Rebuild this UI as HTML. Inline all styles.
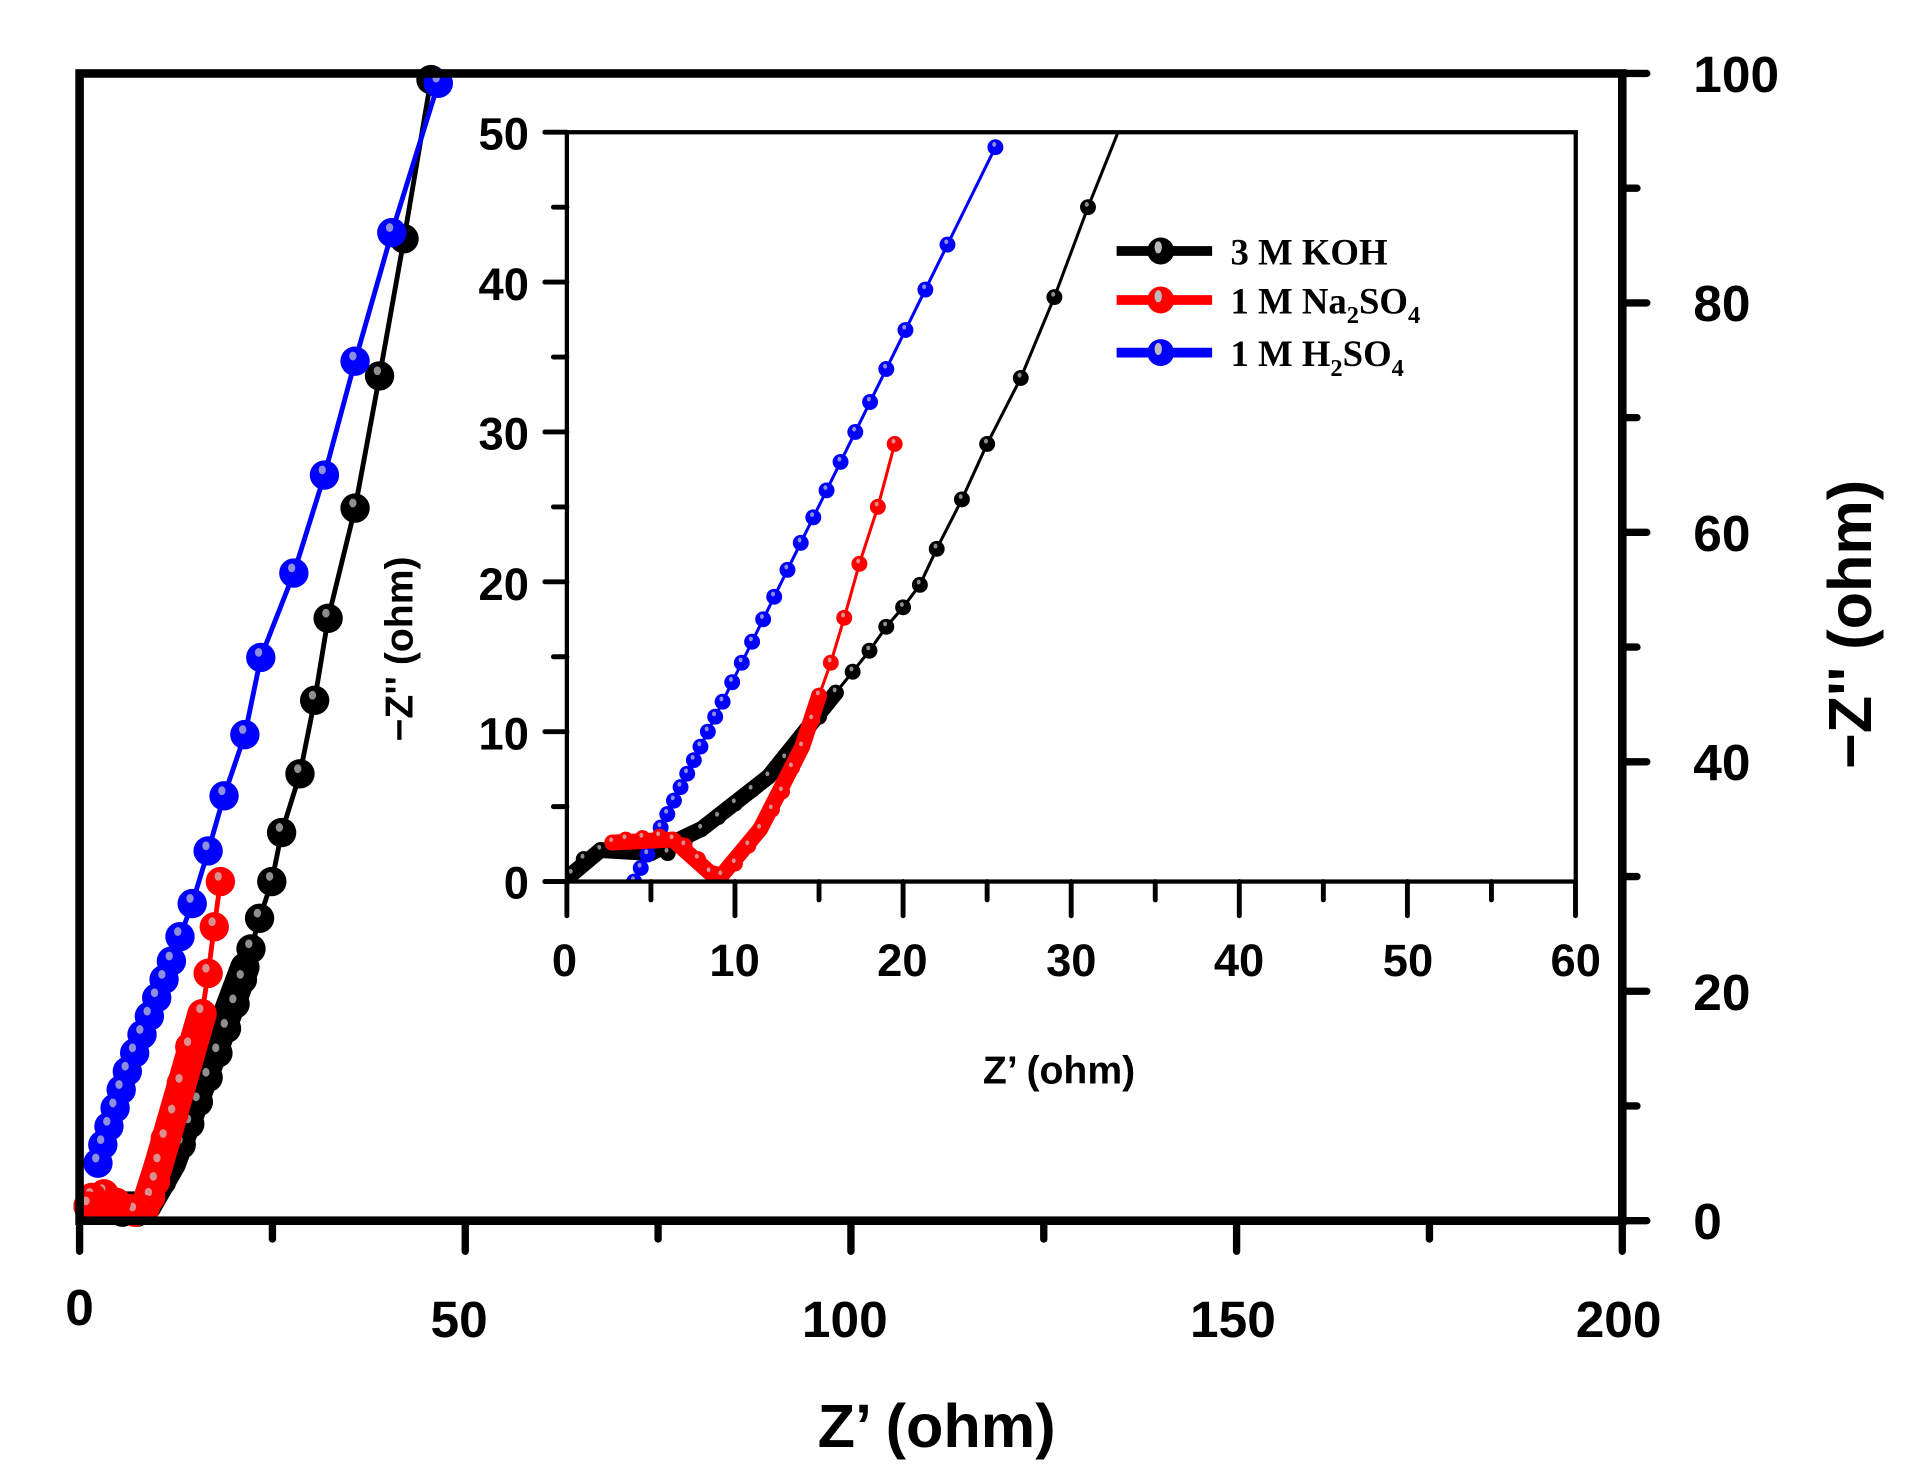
<!DOCTYPE html>
<html><head><meta charset="utf-8"><style>
html,body{margin:0;padding:0;background:#fff;}
svg{display:block;}
</style></head><body>
<svg id="s" width="1910" height="1481" viewBox="0 0 1560 1209.6" preserveAspectRatio="none" xmlns="http://www.w3.org/2000/svg" font-family="Liberation Sans, Arial, sans-serif" font-weight="bold">
<defs><clipPath id="ic"><rect x="463" y="108" width="824" height="612"/></clipPath></defs>
<rect width="1560" height="1210" fill="#fff"/>
<g id="main"></g>
<rect x="65" y="60" width="1260" height="937" fill="none" stroke="#000" stroke-width="7"/>
<g id="mticks" stroke="#000" stroke-width="6" stroke-linecap="round"></g>
<g font-size="42" text-anchor="middle">
<text x="65" y="1082">0</text>
<text x="375" y="1092">50</text>
<text x="690" y="1092">100</text>
<text x="1007" y="1092">150</text>
<text x="1322" y="1092">200</text>
</g>
<g font-size="42" text-anchor="start">
<text x="1383" y="75">100</text>
<text x="1383" y="262">80</text>
<text x="1383" y="450">60</text>
<text x="1383" y="637">40</text>
<text x="1383" y="825">20</text>
<text x="1383" y="1012">0</text>
</g>
<text x="765" y="1182" font-size="50" text-anchor="middle">Z’ (ohm)</text>
<text transform="translate(1528,510) rotate(-90)" font-size="50" text-anchor="middle">−Z'' (ohm)</text>
<rect x="463" y="108" width="824" height="612" fill="#fff"/>
<g id="inset" clip-path="url(#ic)"></g>
<rect x="463" y="108" width="824" height="612" fill="none" stroke="#000" stroke-width="3.5"/>
<g id="iticks" stroke="#000" stroke-width="4" stroke-linecap="round"></g>
<g font-size="37" text-anchor="middle">
<text x="461" y="797">0</text><text x="600" y="797">10</text><text x="737" y="797">20</text>
<text x="875" y="797">30</text><text x="1012" y="797">40</text><text x="1150" y="797">50</text><text x="1287" y="797">60</text>
</g>
<g font-size="37" text-anchor="end">
<text x="432" y="734">0</text><text x="432" y="612">10</text><text x="432" y="490">20</text>
<text x="432" y="367">30</text><text x="432" y="245">40</text><text x="432" y="122">50</text>
</g>
<text x="865" y="885" font-size="32" text-anchor="middle">Z’ (ohm)</text>
<text transform="translate(337,530) rotate(-90)" font-size="32" text-anchor="middle">−Z'' (ohm)</text>
<g id="legend" font-family="Liberation Serif, Times New Roman, serif" font-size="30" font-weight="bold"></g>
<script>
var NS="http://www.w3.org/2000/svg";
function el(p,t,a){var e=document.createElementNS(NS,t);for(var k in a)e.setAttribute(k,a[k]);p.appendChild(e);return e;}
function series(g,pts,col,r,lw,band){
 var d=pts.map(function(p){return p[0]+","+p[1]}).join(" ");
 if(band)el(g,"polyline",{points:band.map(function(p){return p[0]+","+p[1]}).join(" "),fill:"none",stroke:col,"stroke-width":r*2,"stroke-linejoin":"round","stroke-linecap":"round"});
 el(g,"polyline",{points:d,fill:"none",stroke:col,"stroke-width":lw});
 pts.forEach(function(p){el(g,"circle",{cx:p[0],cy:p[1],r:r,fill:col});
  el(g,"ellipse",{cx:p[0]-r*0.15,cy:p[1]-r*0.35,rx:r*0.25,ry:r*0.3,fill:"#ccc",opacity:0.7});});
}
var M=document.getElementById("main");
var blackM=[[352,65],[330,195],[310,307],[290,415],[268,505],[257,572],[245,632],[230,680],[222,720],[212,750],[205,775],[198,800],[192,820],[185,840],[178,860],[170,880],[162,900],[155,918],[148,935],[140,950],[132,965],[125,975],[120,985],[112,990],[100,990],[90,988],[80,985],[72,985]];
var blueM=[[358,68],[320,190],[290,295],[265,388],[240,468],[213,537],[200,600],[183,650],[170,695],[157,738],[147,765],[140,785],[134,800],[128,815],[122,830],[116,845],[110,860],[104,875],[99,890],[94,905],[89,920],[84,935],[80,950]];
var redM=[[180,720],[175,757],[170,795],[165,828],[155,855],[148,885],[142,910],[135,930],[130,950],[127,965],[123,978],[118,988],[110,990],[95,982],[85,975],[75,978],[72,985]];
series(M,blackM,"#000",12,4,[[200,790],[140,950],[120,985],[72,985]]);
series(M,blueM,"#0000ff",12,4,null);
series(M,redM,"#ff0000",12,4,[[165,828],[130,950],[118,988],[72,985]]);
var T=document.getElementById("mticks");
for(var i=0;i<=8;i++){var x=65+i*157.5;el(T,"line",{x1:x,y1:997,x2:x,y2:i%2==0?1022:1012});}
for(var i=0;i<=10;i++){var y=997-i*93.7;el(T,"line",{x1:1325,y1:y,x2:i%2==0?1345:1337,y2:y});}
var I=document.getElementById("inset");
function ix(v){return 463+v*13.73}function iy(v){return 720-v*12.24}
function conv(a){return a.map(function(p){return [ix(p[0]),iy(p[1])]})}
var bk=[[0.3,0.5],[1,1.5],[2,2.1],[3,2.3],[4,2.2],[5,1.9],[6,1.9],[7,2.6],[8,3.5],[9,4.3],[10,5.2],[11,6.1],[12,7],[13,8.2],[14,9.6],[15,11],[16,12.6],[17,14],[18,15.4],[19,17],[20,18.3],[21,19.8],[22,22.2],[23.5,25.5],[25,29.2],[27,33.6],[29,39],[31,45],[33.5,52]];
var ys=[0,0.9,1.8,2.7,3.6,4.5,5.4,6.3,7.2,8.1,9,10,11,12,13.3,14.6,16,17.5,19,20.8,22.6,24.3,26.1,28,30,32,34.2,36.8,39.5,42.5,49];
var bb=ys.map(function(y){return [4+y/2.28,y]});
var rr=[[2.7,2.6],[3.5,2.8],[4.5,2.9],[5.5,3],[6.3,2.8],[7,2.4],[7.8,1.5],[8.5,0.6],[9.2,0.4],[10,1.2],[10.8,2.4],[11.5,3.5],[12.2,4.8],[12.8,6],[13.4,7.6],[14,9],[14.6,10.8],[15,12.4],[15.7,14.6],[16.5,17.6],[17.4,21.2],[18.5,25],[19.5,29.2]];
series(I,conv(bk),"#000",6.5,2.5,conv([[0.3,0.5],[2,2.1],[5,1.9],[8,3.5],[12,7],[16,12.6]]));
series(I,conv(bb),"#0000ff",6.5,2.5,null);
series(I,conv(rr),"#ff0000",6.5,2.5,conv([[2.7,2.6],[6.3,2.8],[8.5,0.6],[9.2,0.4],[11.5,3.5],[14,9],[15,12.4]]));
var IT=document.getElementById("iticks");
for(var i=0;i<=12;i++){var x=ix(i*5);el(IT,"line",{x1:x,y1:720,x2:x,y2:i%2==0?748:735});}
el(IT,"line",{x1:445,y1:720,x2:463,y2:720});
for(var i=0;i<=10;i++){var y=iy(i*5);el(IT,"line",{x1:463,y1:y,x2:i%2==0?445:452,y2:y});}
var L=document.getElementById("legend");
var items=[["#000",205,"3 M KOH",""],["#ff0000",245,"1 M Na","2SO4"],["#0000ff",288,"1 M H","2SO4"]];
items.forEach(function(it){
 el(L,"line",{x1:912,y1:it[1],x2:990,y2:it[1],stroke:it[0],"stroke-width":8});
 el(L,"circle",{cx:948,cy:it[1],r:11,fill:it[0]});
 el(L,"ellipse",{cx:946,cy:it[1]-3,rx:3,ry:5,fill:"#bbb"});
 var t=el(L,"text",{x:1005,y:it[1]+11});
 if(it[3]==""){t.textContent=it[2];}
 else{t.appendChild(document.createTextNode(it[2]));
  var s=el(t,"tspan",{"font-size":"20",dy:"8"});s.textContent="2";
  var s2=el(t,"tspan",{dy:"-8"});s2.textContent="SO";
  var s3=el(t,"tspan",{"font-size":"20",dy:"8"});s3.textContent="4";}
});
</script>
</svg>
</body></html>
